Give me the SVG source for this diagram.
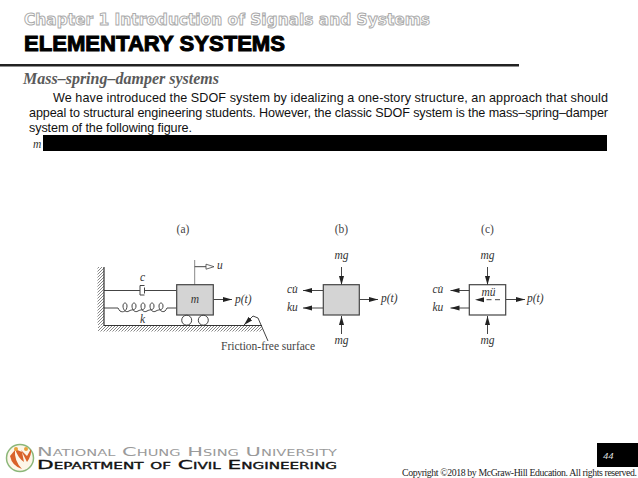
<svg xmlns="http://www.w3.org/2000/svg" width="638" height="478" viewBox="0 0 638 478">
<style>
.s{font-family:"Liberation Serif",serif}
.i{font-family:"Liberation Serif",serif;font-style:italic;font-size:11.5px;fill:#333}
.u{font-family:"Liberation Serif",serif;font-size:11.5px;fill:#444}
.b{font-family:"Liberation Sans",Arial,sans-serif;font-size:12.6px;fill:#111}
.l{fill:none;stroke:#444;stroke-width:1}
.box{stroke:#444;stroke-width:1.2}
.sc{font-family:"DejaVu Sans",sans-serif;font-variant:small-caps;font-size:11.5px}
</style>
<defs>
<marker id="a" markerWidth="10" markerHeight="6" refX="9" refY="3" orient="auto" markerUnits="userSpaceOnUse"><path d="M0 0.5L9 3L0 5.5Z" fill="#222"/></marker>
<pattern id="h" width="3" height="3" patternUnits="userSpaceOnUse"><path d="M-1 4L4 -1M-1 1L1 -1M2 4L4 2" stroke="#555" stroke-width=".7"/></pattern>
</defs>
<rect width="638" height="478" fill="#fff"/>
<g id="header">
<text x="24" y="25" font-family="'DejaVu Sans',sans-serif" font-weight="bold" font-size="16.5" fill="#fff" stroke="#aaa" stroke-width="1" textLength="406" lengthAdjust="spacingAndGlyphs">Chapter 1 Introduction of Signals and Systems</text>
<text x="24" y="51" font-family="'Liberation Sans',sans-serif" font-weight="bold" font-size="22" fill="#000" stroke="#000" stroke-width="1" textLength="261" lengthAdjust="spacingAndGlyphs">ELEMENTARY SYSTEMS</text>
<rect x="0" y="64" width="519" height="2.5" fill="#222"/>
<text class="s" x="23" y="84" font-size="17" font-weight="bold" font-style="italic" fill="#5a5a5a" textLength="196" lengthAdjust="spacingAndGlyphs">Mass–spring–damper systems</text>
</g>
<g id="body">
<text class="b" x="53" y="102" textLength="555">We have introduced the SDOF system by idealizing a one-story structure, an approach that should</text>
<text class="b" x="29" y="117" textLength="579">appeal to structural engineering students. However, the classic SDOF system is the mass–spring–damper</text>
<text class="b" x="29" y="132" textLength="163">system of the following figure.</text>
<text class="i" x="33" y="148" font-size="13">m</text>
<rect x="43" y="135" width="564" height="16" fill="#000"/>
</g>
<g id="connectors">
<path class="l" d="M104 290.500H140M144.500 290.500H176.500M104 308H118M167 308H176.500"/>
<path class="l" d="M144.500 285.500H140V295H144.500M144.500 287.500V293.500"/>
<path class="l" d="M118 308Q119 310 120 311c3 2 7 0 7 -5c0 -4 -4 -4 -4 0c0 4 3 7 6 5c3 -2 7 0 7 -5c0 -4 -4 -4 -4 0c0 4 3 7 6 5c3 -2 7 0 7 -5c0 -4 -4 -4 -4 0c0 4 3 7 6 5c3 -2 7 0 7 -5c0 -4 -4 -4 -4 0c0 4 3 7 6 5c3 -2 7 0 7 -5c0 -4 -4 -4 -4 0c0 4 3 7 6 5Q166 310 167 308"/>
<path d="M194.700 285V260" stroke="#888" fill="none"/>
<path class="l" d="M194.700 266.700H206"/>
<path d="M206 264.200L214 266.700L206 269.200Z" fill="#fff" stroke="#444" stroke-width=".8"/>
<path class="l" marker-end="url(#a)" d="M213.500 299.500H232"/>
<path class="l" d="M253 316L258 318L268 341"/>
<path class="l" marker-end="url(#a)" d="M253 316L244 325"/>
<path class="l" marker-end="url(#a)" d="M323 290.500H303"/>
<path class="l" marker-end="url(#a)" d="M323 308H303"/>
<path class="l" marker-end="url(#a)" d="M341.500 267V285"/>
<path class="l" marker-end="url(#a)" d="M341.500 334V316"/>
<path class="l" marker-end="url(#a)" d="M359.500 299.500H378"/>
<path class="l" marker-end="url(#a)" d="M469.500 290.500H450.500"/>
<path class="l" marker-end="url(#a)" d="M469.500 308H450.500"/>
<path class="l" marker-end="url(#a)" d="M487.500 267V285"/>
<path class="l" marker-end="url(#a)" d="M487.500 334V316"/>
<path class="l" marker-end="url(#a)" d="M506 299.500H525"/>
<path class="l" stroke-dasharray="5 3.500" marker-end="url(#a)" d="M500 299.700H475"/>
</g>
<g id="panel-a">
<text class="u" x="183" y="233" text-anchor="middle">(a)</text>
<rect x="97.500" y="267" width="6.500" height="58" fill="url(#h)"/>
<rect x="98" y="325.500" width="164" height="6" fill="url(#h)"/>
<path d="M104 267V325.500H262" fill="none" stroke="#333" stroke-width="1.200"/>
<text class="i" x="140" y="281">c</text>
<text class="i" x="140" y="323">k</text>
<text class="i" x="217" y="269">u</text>
<text class="i" x="235" y="303">p(t)</text>
<text class="u" x="221" y="350" textLength="94">Friction-free surface</text>
</g>
<g id="mass-a">
<rect class="box" x="176.700" y="284.700" width="36.600" height="30.300" fill="#d4d4d4"/>
<text class="i" x="195" y="303" text-anchor="middle">m</text>
<circle class="l" cx="186.700" cy="320.200" r="5"/>
<circle class="l" cx="203.300" cy="320.200" r="5"/>
</g>
<g id="panel-b">
<text class="u" x="341.500" y="233" text-anchor="middle">(b)</text>
<rect class="box" x="323.300" y="284.700" width="36" height="30.300" fill="#d4d4d4"/>
<text class="i" x="341.500" y="259" text-anchor="middle">mg</text>
<text class="i" x="341.500" y="344" text-anchor="middle">mg</text>
<text class="i" x="287" y="293">cu̇</text>
<text class="i" x="287" y="311">ku</text>
<text class="i" x="381" y="302">p(t)</text>
</g>
<g id="panel-c">
<text class="u" x="487.500" y="233" text-anchor="middle">(c)</text>
<rect class="box" x="469.300" y="284.700" width="36.400" height="30.300" fill="none"/>
<text class="i" x="487.500" y="259" text-anchor="middle">mg</text>
<text class="i" x="487.500" y="344" text-anchor="middle">mg</text>
<text class="i" x="432.500" y="293">cu̇</text>
<text class="i" x="432.500" y="311">ku</text>
<text class="i" x="488.500" y="296" text-anchor="middle">mü</text>
<text class="i" x="527" y="302">p(t)</text>
</g>
<g id="footer">
<circle cx="20" cy="458" r="13.500" fill="#fdf6e8" stroke="#8cb77a" stroke-width="1.500"/>
<path d="M10 456Q12 466 22 469Q14 461 15 450ZM15 449Q18 458 24 462L22 452ZM21 450Q25 458 27 462Q32 455 31 449L27 456Z" fill="#d9622a"/>
<circle cx="16" cy="449" r="2" fill="#e8a13a"/>
<circle cx="26" cy="449" r="2" fill="#e8a13a"/>
<text class="sc" x="37" y="455.500" fill="#9a9a9a" textLength="300" lengthAdjust="spacingAndGlyphs">National Chung Hsing University</text>
<text class="sc" x="37" y="468.500" fill="#111" stroke="#111" stroke-width=".3" textLength="300" lengthAdjust="spacingAndGlyphs">Department of Civil Engineering</text>
<rect x="597" y="443" width="41" height="24" fill="#000"/>
<text x="603" y="459" font-family="'Liberation Sans',sans-serif" font-style="italic" font-size="9.500" fill="#ddd">44</text>
<text class="s" x="402" y="476" font-size="9.800" fill="#222" textLength="235">Copyright ©2018 by McGraw-Hill Education. All rights reserved.</text>
</g>
</svg>
